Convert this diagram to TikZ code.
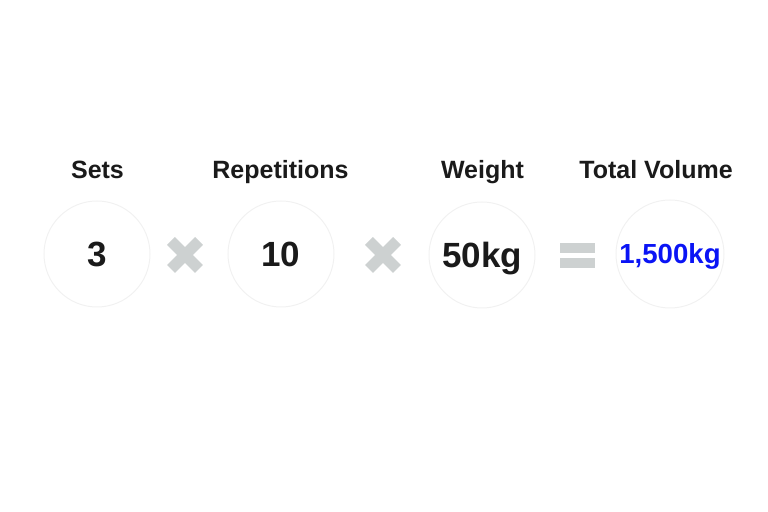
\documentclass[tikz,border=0pt]{standalone}
\usepackage{fontspec}
\setmainfont{Liberation Sans}
\definecolor{ringgray}{HTML}{F1F1F1}
\definecolor{signgray}{HTML}{CDD1D1}
\definecolor{inkblack}{HTML}{1A1A1A}
\definecolor{totalblue}{HTML}{0A14F5}
\tikzset{
  ring/.style={circle, draw=ringgray, line width=0.5pt, inner sep=0pt, minimum size=53pt,
    text=inkblack, font=\fontsize{17.5}{20}\selectfont\bfseries, text height=12.5pt, text depth=0pt},
  lbl/.style={anchor=base, text=inkblack, inner sep=0pt, font=\fontsize{12.5}{15}\selectfont\bfseries},
  times/.style={signgray, line width=5.5pt, line cap=butt},
  bar/.style={fill=signgray, draw=none}
}
\begin{document}
\begin{tikzpicture}[x=0.5pt,y=-0.5pt]
\useasboundingbox (0,0) rectangle (768,512);

\node[ring] (sets) at (97,254) {3};
\node[ring] (reps) at (281,254) {10};
\node[ring] (weight) at (482,255) {50kg};
\node[ring, minimum size=54pt, text=totalblue, font=\fontsize{13.8}{16}\selectfont\bfseries, text height=9.9pt] (total) at (670,254) {1,500kg};

\node[lbl] (setslbl) at (97.5,179) {Sets};
\node[lbl] (repslbl) at (280.5,179) {Repetitions};
\node[lbl] (weightlbl) at (482.5,179) {Weight};
\node[lbl] (totallbl) at (656,179) {Total Volume};

% multiply signs
\draw[times] (171,241) -- (199,269);
\draw[times] (171,269) -- (199,241);
\draw[times] (369,241) -- (397,269);
\draw[times] (369,269) -- (397,241);

% equals sign
\fill[bar] (560,243) rectangle (595,253);
\fill[bar] (560,258) rectangle (595,268);
\end{tikzpicture}
\end{document}
